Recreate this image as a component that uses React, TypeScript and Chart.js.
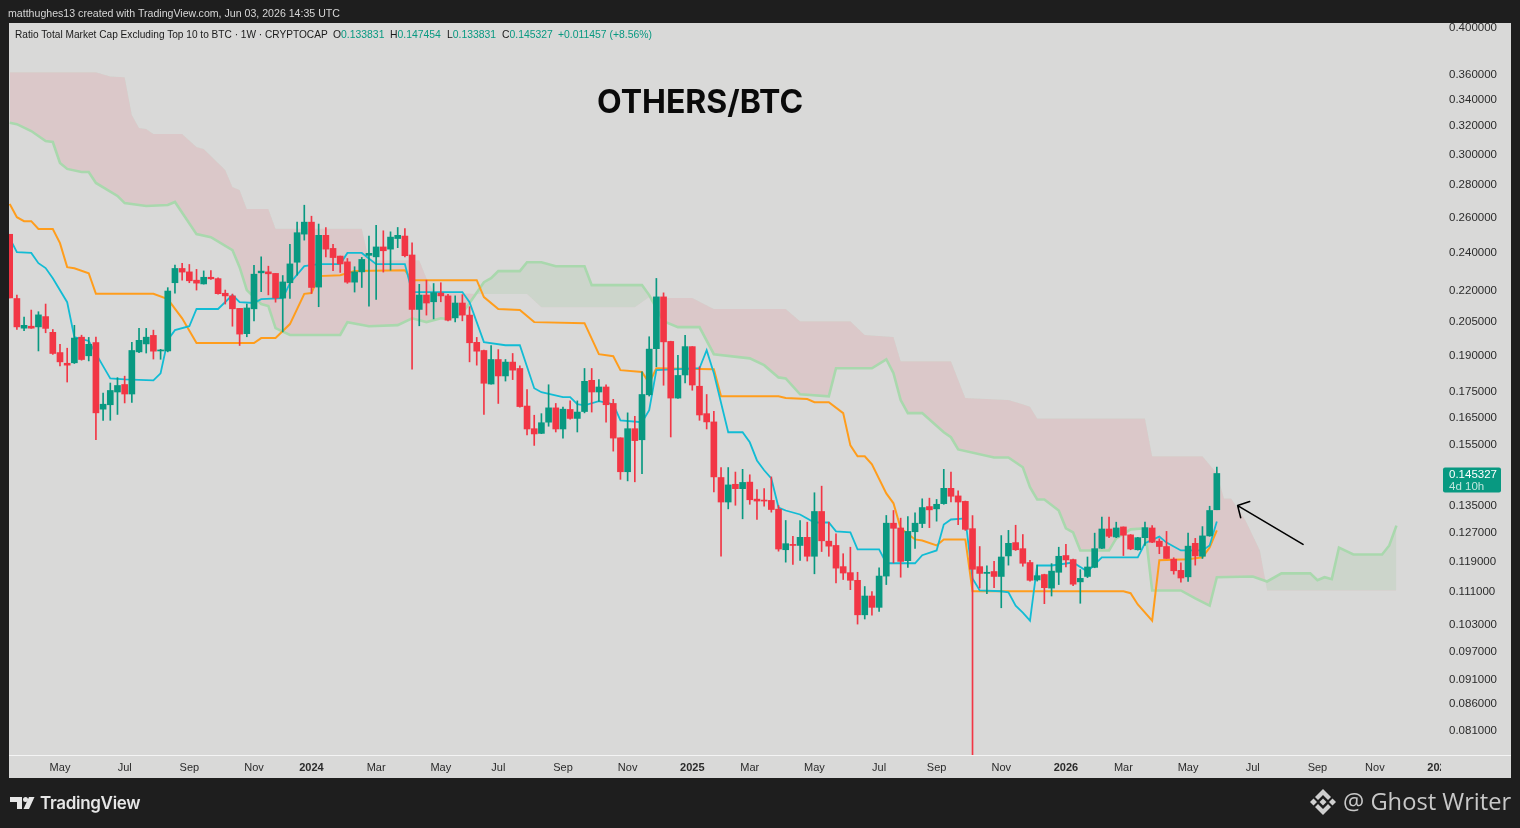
import React, { useEffect, useRef } from "react";
import { Chart, registerables } from "chart.js";

Chart.register(...registerables);

const candleOpen = [
  0.2503,0.2163,0.2022,0.2031,0.2028,0.2076,0.2003,0.1913,0.1867,0.1869,
  0.1981,0.1899,0.1957,0.1682,0.1699,0.1749,0.1779,0.1741,0.1916,0.1951,
  0.1989,0.1920,0.1920,0.2242,0.2316,0.2298,0.2255,0.2236,0.2270,0.2263,
  0.2189,0.2176,0.2115,0.1997,0.2113,0.2293,0.2298,0.2290,0.2165,0.2242,
  0.2349,0.2504,0.2573,0.2220,0.2497,0.2424,0.2382,0.2351,0.2245,0.2298,
  0.2386,0.2378,0.2432,0.2420,0.2479,0.2493,0.2388,0.2110,0.2180,0.2147,
  0.2190,0.2176,0.2070,0.2141,0.2083,0.1958,0.1922,0.1781,0.1883,0.1814,
  0.1872,0.1845,0.1694,0.1609,0.1592,0.1633,0.1687,0.1608,0.1681,0.1647,
  0.1673,0.1796,0.1749,0.1769,0.1704,0.1576,0.1459,0.1609,0.1569,0.1738,
  0.1930,0.2171,0.1962,0.1725,0.1818,0.1939,0.1772,0.1665,0.1634,0.1440,
  0.1362,0.1418,0.1404,0.1425,0.1371,0.1367,0.1367,0.1340,0.1222,0.1237,
  0.1234,0.1257,0.1204,0.1333,0.1246,0.1234,0.1176,0.1160,0.1140,0.1054,
  0.1100,0.1072,0.1151,0.1298,0.1284,0.1192,0.1273,0.1297,0.1348,0.1341,
  0.1357,0.1405,0.1381,0.1364,0.1282,0.1176,0.1158,0.1163,0.1150,0.1205,
  0.1242,0.1225,0.1187,0.1141,0.1155,0.1120,0.1161,0.1206,0.1195,0.1136,
  0.1150,0.1174,0.1226,0.1281,0.1258,0.1287,0.1264,0.1222,0.1256,0.1284,
  0.1246,0.1231,0.1196,0.1166,0.1149,0.1240,0.1204,0.1261,0.133831,
];
const candleHigh = [
  0.2503,0.2180,0.2074,0.2107,0.2099,0.2136,0.2016,0.1949,0.1932,0.2035,
  0.1990,0.1980,0.1981,0.1745,0.1785,0.1807,0.1813,0.1958,0.2021,0.2021,
  0.2013,0.1927,0.2217,0.2334,0.2343,0.2337,0.2311,0.2303,0.2305,0.2267,
  0.2205,0.2185,0.2115,0.2136,0.2332,0.2378,0.2328,0.2290,0.2279,0.2446,
  0.2573,0.2674,0.2608,0.2562,0.2542,0.2446,0.2382,0.2369,0.2325,0.2375,
  0.2493,0.2554,0.2523,0.2517,0.2542,0.2536,0.2455,0.2234,0.2255,0.2238,
  0.2242,0.2184,0.2176,0.2182,0.2123,0.1980,0.1924,0.1944,0.1926,0.1883,
  0.1909,0.1856,0.1759,0.1659,0.1665,0.1778,0.1704,0.1690,0.1714,0.1714,
  0.1845,0.1845,0.1799,0.1778,0.1720,0.1576,0.1668,0.1655,0.1831,0.1983,
  0.2264,0.2191,0.1963,0.1901,0.1989,0.1939,0.1852,0.1739,0.1674,0.1473,
  0.1473,0.1458,0.1467,0.1449,0.1401,0.1404,0.1442,0.1351,0.1306,0.1260,
  0.1306,0.1301,0.1391,0.1412,0.1301,0.1267,0.1211,0.1229,0.1161,0.1124,
  0.1111,0.1173,0.1321,0.1336,0.1313,0.1318,0.1329,0.1372,0.1374,0.1370,
  0.1467,0.1458,0.1397,0.1365,0.1321,0.1231,0.1178,0.1190,0.1262,0.1277,
  0.1292,0.1265,0.1193,0.1180,0.1156,0.1184,0.1229,0.1237,0.1196,0.1168,
  0.1202,0.1269,0.1316,0.1316,0.1301,0.1287,0.1265,0.1257,0.1301,0.1291,
  0.1253,0.1274,0.1200,0.1186,0.1269,0.1254,0.1288,0.1349,0.147454,
];
const candleLow = [
  0.2166,0.2016,0.2010,0.2021,0.1920,0.2001,0.1905,0.1856,0.1789,0.1866,
  0.1880,0.1877,0.1569,0.1640,0.1640,0.1662,0.1706,0.1708,0.1913,0.1911,
  0.1885,0.1884,0.1916,0.2190,0.2255,0.2242,0.2205,0.2235,0.2259,0.2185,
  0.2136,0.2031,0.1944,0.1983,0.2056,0.2197,0.2181,0.2145,0.2005,0.2163,
  0.2281,0.2470,0.2188,0.2123,0.2378,0.2304,0.2295,0.2239,0.2195,0.2218,
  0.2126,0.2158,0.2297,0.2307,0.2428,0.2378,0.1842,0.2033,0.2083,0.2065,
  0.2147,0.2056,0.2051,0.2056,0.1873,0.1859,0.1662,0.1780,0.1704,0.1793,
  0.1799,0.1690,0.1586,0.1549,0.1591,0.1618,0.1597,0.1575,0.1644,0.1597,
  0.1668,0.1671,0.1712,0.1633,0.1529,0.1434,0.1429,0.1426,0.1453,0.1733,
  0.1852,0.1776,0.1579,0.1724,0.1785,0.1756,0.1640,0.1608,0.1394,0.1204,
  0.1341,0.1352,0.1311,0.1355,0.1309,0.1349,0.1331,0.1218,0.1188,0.1182,
  0.1193,0.1191,0.1157,0.1217,0.1204,0.1133,0.1142,0.1116,0.1032,0.1044,
  0.1053,0.1062,0.1129,0.1186,0.1148,0.1174,0.1226,0.1285,0.1285,0.1304,
  0.1355,0.1362,0.1294,0.1277,0.0700,0.1120,0.1106,0.1121,0.1071,0.1180,
  0.1220,0.1177,0.1138,0.1138,0.1081,0.1100,0.1129,0.1175,0.1126,0.1082,
  0.1147,0.1173,0.1225,0.1256,0.1256,0.1206,0.1222,0.1221,0.1234,0.1242,
  0.1211,0.1198,0.1156,0.1135,0.1137,0.1180,0.1198,0.1260,0.133831,
];
const candleClose = [
  0.2166,0.2028,0.2035,0.2022,0.2084,0.2021,0.1909,0.1873,0.1859,0.1977,
  0.1883,0.1949,0.1668,0.1701,0.1755,0.1775,0.1741,0.1922,0.1967,0.1981,
  0.1919,0.1924,0.2200,0.2316,0.2297,0.2252,0.2240,0.2270,0.2262,0.2187,
  0.2176,0.2113,0.1995,0.2117,0.2286,0.2302,0.2288,0.2166,0.2246,0.2340,
  0.2512,0.2573,0.2218,0.2497,0.2420,0.2374,0.2340,0.2245,0.2298,0.2364,
  0.2397,0.2432,0.2411,0.2487,0.2497,0.2384,0.2110,0.2180,0.2141,0.2192,
  0.2176,0.2059,0.2141,0.2083,0.1956,0.1919,0.1784,0.1883,0.1814,0.1872,
  0.1838,0.1692,0.1608,0.1590,0.1631,0.1687,0.1608,0.1682,0.1647,0.1671,
  0.1792,0.1749,0.1769,0.1699,0.1575,0.1459,0.1609,0.1566,0.1739,0.1928,
  0.2171,0.1960,0.1725,0.1816,0.1939,0.1777,0.1660,0.1634,0.1442,0.1362,
  0.1416,0.1404,0.1424,0.1369,0.1365,0.1365,0.1339,0.1224,0.1239,0.1234,
  0.1257,0.1204,0.1333,0.1247,0.1232,0.1172,0.1159,0.1140,0.1054,0.1100,
  0.1072,0.1151,0.1298,0.1283,0.1190,0.1274,0.1298,0.1345,0.1338,0.1355,
  0.1405,0.1380,0.1362,0.1280,0.1169,0.1158,0.1161,0.1150,0.1202,0.1240,
  0.1222,0.1185,0.1140,0.1152,0.1121,0.1164,0.1204,0.1194,0.1130,0.1145,
  0.1175,0.1225,0.1281,0.1260,0.1284,0.1263,0.1224,0.1256,0.1285,0.1243,
  0.1231,0.1198,0.1165,0.1146,0.1232,0.1205,0.1261,0.1336,0.145327,
];

const tenkanIdx = [0,1,3,4,5,6,8,9,11,13,14,16,20,21,22,23,25,26,29,31,32,34,35,38,39,41,43,46,47,49,51,55,56,63,64,66,69,71,73,74,77,78,79,80,82,84,85,88,89,90,96,97,98,100,102,103,104,105,106,107,108,110,112,114,115,117,118,121,122,126,127,129,130,131,133,134,135,138,139,140,141,142,143,145,148,150,152,157,158,160,161,163,166,167,168];
const tenkanVal = [0.2481,0.2404,0.2399,0.2344,0.2318,0.2265,0.2145,0.1981,0.1964,0.1855,0.1804,0.1800,0.1796,0.1825,0.1968,0.2013,0.2031,0.2112,0.2112,0.2180,0.2145,0.2141,0.2160,0.2165,0.2240,0.2328,0.2339,0.2339,0.2399,0.2399,0.2339,0.2339,0.2195,0.2195,0.2145,0.1959,0.1945,0.1945,0.1764,0.1748,0.1729,0.1729,0.1701,0.1697,0.1713,0.1701,0.1640,0.1633,0.1678,0.1838,0.1846,0.1923,0.1825,0.1596,0.1596,0.1560,0.1497,0.1464,0.1437,0.1345,0.1336,0.1324,0.1300,0.1300,0.1274,0.1271,0.1223,0.1223,0.1185,0.1185,0.1207,0.1220,0.1294,0.1309,0.1312,0.1145,0.1114,0.1112,0.1109,0.1076,0.1059,0.1040,0.1179,0.1179,0.1187,0.1163,0.1201,0.1201,0.1240,0.1259,0.1242,0.1220,0.1220,0.1234,0.1303];

const kijunIdx = [0,1,2,3,4,6,7,8,9,11,12,20,22,24,26,34,35,37,39,41,42,43,46,48,55,56,65,66,68,71,73,80,82,84,85,88,89,90,98,99,107,108,111,112,114,116,117,118,119,120,122,123,124,126,127,129,130,133,134,155,156,157,159,160,164,166,167,168];
const kijunVal = [0.2682,0.2602,0.2579,0.2579,0.2533,0.2533,0.2453,0.2323,0.2317,0.2291,0.2186,0.2186,0.2160,0.2068,0.1955,0.1955,0.1977,0.1977,0.2041,0.2186,0.2190,0.2276,0.2281,0.2302,0.2307,0.2255,0.2255,0.2170,0.2112,0.2107,0.2050,0.2045,0.1906,0.1897,0.1838,0.1830,0.1784,0.1846,0.1842,0.1732,0.1732,0.1725,0.1721,0.1709,0.1709,0.1667,0.1549,0.1511,0.1511,0.1484,0.1389,0.1358,0.1283,0.1251,0.1248,0.1234,0.1251,0.1251,0.1112,0.1112,0.1107,0.1079,0.1040,0.1193,0.1196,0.1201,0.1228,0.1277];

const spanAIdx = [0,1,3,5,6,7,8,10,11,12,15,16,19,22,23,26,28,31,32,33,35,36,37,39,46,47,50,54,56,58,60,61,63,64,66,67,68,71,72,74,76,80,81,88,89,91,93,96,98,103,105,107,108,110,114,115,120,122,123,124,125,127,130,131,132,137,139,141,142,143,144,146,147,148,149,153,154,156,158,159,163,165,167,168,173,175,177,181,182,183,184,185,187,191,192,193];
const spanAVal = [0.3225,0.3215,0.3165,0.3094,0.3087,0.2943,0.2904,0.2884,0.2884,0.2813,0.2731,0.2687,0.2669,0.2675,0.2694,0.2504,0.2487,0.2415,0.2323,0.2205,0.2136,0.2126,0.2022,0.1991,0.1991,0.2050,0.2031,0.2036,0.2068,0.2050,0.2068,0.2064,0.2093,0.2141,0.2245,0.2265,0.2302,0.2302,0.2349,0.2349,0.2328,0.2328,0.2230,0.2230,0.2180,0.2054,0.2027,0.2027,0.1906,0.1888,0.1859,0.1808,0.1804,0.1740,0.1732,0.1846,0.1846,0.1884,0.1825,0.1717,0.1667,0.1667,0.1596,0.1578,0.1535,0.1507,0.1507,0.1474,0.1409,0.1370,0.1370,0.1336,0.1283,0.1271,0.1220,0.1220,0.1254,0.1280,0.1283,0.1114,0.1114,0.1094,0.1076,0.1148,0.1150,0.1137,0.1158,0.1158,0.1140,0.1148,0.1143,0.1228,0.1209,0.1209,0.1234,0.1291];

const spanBIdx = [0,12,14,16,17,18,19,20,24,26,27,29,30,31,32,33,36,37,49,50,57,58,59,65,72,74,87,89,91,95,98,108,110,117,119,123,124,131,133,139,141,142,143,158,159,166,168,169,170,172,174,175,193];
const spanBVal = [0.3617,0.3617,0.3583,0.3577,0.3283,0.3187,0.3180,0.3144,0.3144,0.3053,0.3039,0.2943,0.2897,0.2787,0.2768,0.2651,0.2651,0.2534,0.2534,0.2360,0.2360,0.2265,0.2195,0.2185,0.2185,0.2121,0.2121,0.2170,0.2165,0.2165,0.2112,0.2112,0.2054,0.2054,0.1991,0.1982,0.1876,0.1876,0.1725,0.1717,0.1701,0.1691,0.1647,0.1647,0.1511,0.1511,0.1454,0.1373,0.1373,0.1306,0.1220,0.1114,0.1114];

const priceTicks = [0.4,0.36,0.34,0.32,0.3,0.28,0.26,0.24,0.22,0.205,0.19,0.175,0.165,0.155,0.135,0.127,0.119,0.111,0.103,0.097,0.091,0.086,0.081];
const timeTickIdx = [7,16,25,34,42,51,60,68,77,86,95,103,112,121,129,138,147,155,164,173,182,190,199];
const timeTickLabels = ["May","Jul","Sep","Nov","2024","Mar","May","Jul","Sep","Nov","2025","Mar","May","Jul","Sep","Nov","2026","Mar","May","Jul","Sep","Nov","2027"];

const lastPrice = 0.145327;
const lastPriceLabel = "0.145327";
const countdownLabel = "4d 10h";
const arrowFrom = { x: 180, y: 0.1237 };
const arrowTo = { x: 170.9, y: 0.1351 };

const UP = "#089981";
const DOWN = "#f23645";
const PANEL = "#d9d9d8";
const DARK = "#1e1e1e";
const UI_FONT = "'Liberation Sans', Arial, sans-serif";

const pairs = (xs: number[], ys: number[]) => xs.map((x, i) => ({ x, y: ys[i] }));
const candleColors = candleOpen.map((o, i) => (candleClose[i] >= o ? UP : DOWN));

const framePlugin = {
  id: "frame",
  beforeDraw(chart: any) {
    const { ctx, width, height } = chart;
    ctx.save();
    ctx.fillStyle = DARK;
    ctx.fillRect(0, 0, width, height);
    ctx.fillStyle = PANEL;
    ctx.fillRect(9, 23, 1502, 755);
    ctx.restore();
  },
  afterDraw(chart: any) {
    const { ctx, scales } = chart;
    ctx.save();
    // everything right of the plot hides the clipped year label
    ctx.fillStyle = PANEL;
    ctx.fillRect(1441, 756, 70, 22);
    ctx.fillStyle = "#f4f4f4";
    ctx.fillRect(9, 755, 1502, 1);

    // last price tag
    const tagY = scales.y.getPixelForValue(lastPrice);
    ctx.fillStyle = UP;
    ctx.beginPath();
    ctx.roundRect(1443, tagY - 6, 58, 25, 2);
    ctx.fill();
    ctx.font = "11.5px " + UI_FONT;
    ctx.textBaseline = "middle";
    ctx.textAlign = "left";
    ctx.fillStyle = "#ffffff";
    ctx.fillText(lastPriceLabel, 1449, tagY + 1);
    ctx.fillStyle = "#bfe6dd";
    ctx.fillText(countdownLabel, 1449, tagY + 13);

    // arrow annotation
    const x0 = scales.x.getPixelForValue(arrowFrom.x);
    const y0 = scales.y.getPixelForValue(arrowFrom.y);
    const x1 = scales.x.getPixelForValue(arrowTo.x);
    const y1 = scales.y.getPixelForValue(arrowTo.y);
    ctx.strokeStyle = "#000000";
    ctx.lineWidth = 1.6;
    ctx.lineCap = "round";
    ctx.lineJoin = "round";
    ctx.beginPath();
    ctx.moveTo(x0, y0);
    ctx.lineTo(x1, y1);
    ctx.moveTo(x1 + 3, y1 + 12);
    ctx.lineTo(x1, y1);
    ctx.lineTo(x1 + 12, y1 - 4);
    ctx.stroke();
    ctx.restore();
  },
};

function CandleChart() {
  const ref = useRef<HTMLCanvasElement | null>(null);
  useEffect(() => {
    const chart = new Chart(ref.current as HTMLCanvasElement, {
      type: "bar",
      plugins: [framePlugin],
      data: {
        datasets: [
          {
            type: "line",
            label: "Span A",
            data: pairs(spanAIdx, spanAVal),
            borderColor: "#a9d8ad",
            borderWidth: 2.6,
            pointRadius: 0,
            tension: 0,
            order: 5,
            fill: {
              target: "+1",
              above: "rgba(76,175,80,0.09)",
              below: "rgba(242,54,69,0.10)",
            },
          },
          {
            type: "line",
            label: "Span B",
            data: pairs(spanBIdx, spanBVal),
            borderColor: "rgba(0,0,0,0)",
            borderWidth: 0,
            pointRadius: 0,
            tension: 0,
            order: 6,
            fill: false,
          },
          {
            type: "line",
            label: "Kijun",
            data: pairs(kijunIdx, kijunVal),
            borderColor: "#ff9d1c",
            borderWidth: 2,
            pointRadius: 0,
            tension: 0,
            order: 3,
          },
          {
            type: "line",
            label: "Tenkan",
            data: pairs(tenkanIdx, tenkanVal),
            borderColor: "#12bcd4",
            borderWidth: 1.8,
            pointRadius: 0,
            tension: 0,
            order: 2,
          },
          {
            type: "bar",
            label: "Wick",
            data: candleOpen.map((_, i) => ({ x: i, y: [candleLow[i], candleHigh[i]] })),
            backgroundColor: candleColors,
            borderWidth: 0,
            barThickness: 1,
            grouped: false,
            order: 1,
          },
          {
            type: "bar",
            label: "Body",
            data: candleOpen.map((o, i) => ({ x: i, y: [o, candleClose[i]] })),
            backgroundColor: candleColors,
            borderWidth: 0,
            barThickness: 6,
            minBarLength: 1,
            grouped: false,
            order: 0,
          },
        ] as any,
      },
      options: {
        responsive: false,
        animation: false,
        events: [],
        layout: { padding: { left: 9, top: 23, right: 9, bottom: 50 } },
        plugins: {
          legend: { display: false },
          title: { display: false },
          tooltip: { enabled: false },
        },
        scales: {
          x: {
            type: "linear",
            offset: false,
            min: -0.097,
            max: 199.2,
            grid: { display: false, drawTicks: false, tickLength: 0 },
            border: { display: false },
            afterBuildTicks: (scale: any) => {
              scale.ticks = timeTickIdx.map((value) => ({ value }));
            },
            afterFit: (scale: any) => {
              scale.height = 23;
            },
            ticks: {
              autoSkip: false,
              maxRotation: 0,
              padding: 6,
              color: "#2b2b2b",
              font: (ctx: any) => {
                const label = timeTickLabels[timeTickIdx.indexOf(ctx.tick?.value)] || "";
                return { family: UI_FONT, size: 11, weight: /^\d/.test(label) ? "bold" : "normal" };
              },
              callback: (value: any) => timeTickLabels[timeTickIdx.indexOf(value)] ?? "",
            },
          },
          y: {
            type: "logarithmic",
            position: "right",
            min: 0.07664,
            max: 0.4046,
            grid: { display: false, drawTicks: false, tickLength: 0 },
            border: { display: false },
            afterBuildTicks: (scale: any) => {
              scale.ticks = priceTicks.map((value) => ({ value }));
            },
            afterFit: (scale: any) => {
              scale.width = 70;
            },
            ticks: {
              autoSkip: false,
              padding: 8,
              color: "#2b2b2b",
              font: { family: UI_FONT, size: 11.5 },
              callback: (value: any) => Number(value).toFixed(6),
            },
          },
        },
      } as any,
    });
    return () => chart.destroy();
  }, []);
  return (
    <canvas
      ref={ref}
      width={1520}
      height={828}
      style={{ position: "absolute", left: 0, top: 0, width: 1520, height: 828, display: "block" }}
    />
  );
}

const text = (style: React.CSSProperties): React.CSSProperties => ({
  position: "absolute",
  whiteSpace: "nowrap",
  lineHeight: 1,
  fontFamily: UI_FONT,
  ...style,
});

const legendPairs = [
  ["O", "0.133831", 333],
  ["H", "0.147454", 390],
  ["L", "0.133831", 447],
  ["C", "0.145327", 502],
] as const;

export default function App() {
  useEffect(() => {
    document.body.style.margin = "0";
    document.body.style.background = DARK;
  }, []);
  return (
    <div style={{ position: "relative", width: 1520, height: 828, overflow: "hidden", background: DARK }}>
      <CandleChart />
      <div style={text({ left: 8, top: 8, fontSize: 10.6, color: "#d6d6d6" })}>
        matthughes13 created with TradingView.com, Jun 03, 2026 14:35 UTC
      </div>
      <div style={text({ left: 15, top: 30, fontSize: 10.15, color: "#1a1a1a" })}>
        Ratio Total Market Cap Excluding Top 10 to BTC · 1W · CRYPTOCAP
      </div>
      {legendPairs.map(([k, v, left]) => (
        <div key={k} style={text({ left, top: 30, fontSize: 10.4, color: "#1a1a1a" })}>
          {k}
          <span style={{ color: UP }}>{v}</span>
        </div>
      ))}
      <div style={text({ left: 558, top: 30, fontSize: 10.4, color: UP })}>+0.011457 (+8.56%)</div>
      <div style={text({ left: 597, top: 86, fontSize: 32, fontWeight: 700, color: "#0a0a0a", fontFamily: "Inter, sans-serif" })}>
        OTHERS/BTC
      </div>
      <svg width={1520} height={828} style={{ position: "absolute", left: 0, top: 0, pointerEvents: "none" }}>
        <g fill="#e6e6e6">
          <polygon points="10,797 22,797 22,809 17,809 17,802 10,802" />
          <circle cx={25.5} cy={799.5} r={2.5} />
          <polygon points="29,797 34.5,797 29,809 23.5,809" />
        </g>
        <g fill="#cfcfcf">
          <polygon points="1323,789 1331,797 1328,800 1323,795 1318,800 1315,797" />
          <polygon points="1323,815 1331,807 1328,804 1323,809 1318,804 1315,807" />
          <polygon points="1323,798.5 1326.5,802 1323,805.5 1319.5,802" />
          <polygon points="1313.5,798.5 1317,802 1313.5,805.5 1310,802" />
          <polygon points="1332.5,798.5 1336,802 1332.5,805.5 1329,802" />
        </g>
      </svg>
      <div style={text({ left: 40, top: 795, fontSize: 17, fontWeight: 600, color: "#e6e6e6", fontFamily: "Inter, sans-serif", letterSpacing: -0.3 })}>
        TradingView
      </div>
      <div style={text({ left: 1343, top: 790, fontSize: 23.7, color: "#c8c8c8", fontFamily: "'Open Sans', sans-serif" })}>
        @ Ghost Writer
      </div>
    </div>
  );
}
